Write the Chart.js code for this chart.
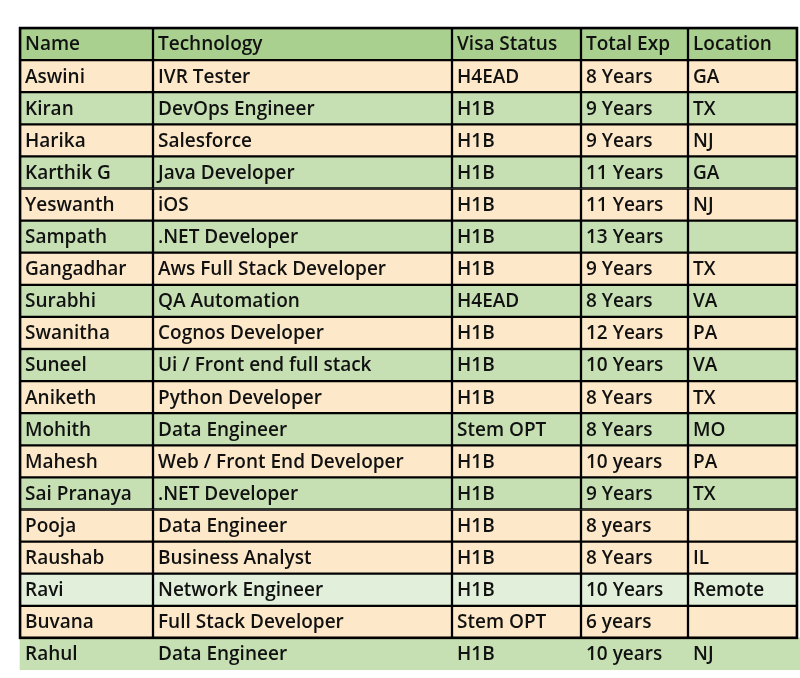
<!DOCTYPE html>
<html>
<head>
<meta charset="utf-8">
<script src="https://cdn.jsdelivr.net/npm/chart.js@4"></script>
<style>
  body { margin: 0; background: #fff; }
  #wrap { width: 800px; height: 678px; }
</style>
</head>
<body>
<div id="wrap"><canvas id="tbl"></canvas></div>
<script>
const headers = ["Name", "Technology", "Visa Status", "Total Exp", "Location"];
const names = ["Aswini", "Kiran", "Harika", "Karthik G", "Yeswanth", "Sampath", "Gangadhar", "Surabhi", "Swanitha", "Suneel", "Aniketh", "Mohith", "Mahesh", "Sai Pranaya", "Pooja", "Raushab", "Ravi", "Buvana", "Rahul"];
const technology = ["IVR Tester", "DevOps Engineer", "Salesforce", "Java Developer", "iOS", ".NET Developer", "Aws Full Stack Developer", "QA Automation", "Cognos Developer", "Ui / Front end full stack", "Python Developer", "Data Engineer", "Web / Front End Developer", ".NET Developer", "Data Engineer", "Business Analyst", "Network Engineer", "Full Stack Developer", "Data Engineer"];
const visa = ["H4EAD", "H1B", "H1B", "H1B", "H1B", "H1B", "H1B", "H4EAD", "H1B", "H1B", "H1B", "Stem OPT", "H1B", "H1B", "H1B", "H1B", "H1B", "Stem OPT", "H1B"];
const experience = ["8 Years", "9 Years", "9 Years", "11 Years", "11 Years", "13 Years", "9 Years", "8 Years", "12 Years", "10 Years", "8 Years", "8 Years", "10 years", "9 Years", "8 years", "8 Years", "10 Years", "6 years", "10 years"];
const location_ = ["GA", "TX", "NJ", "GA", "NJ", "", "TX", "VA", "PA", "VA", "TX", "MO", "PA", "TX", "", "IL", "Remote", "", "NJ"];
// row shading: h = header, p = peach, g = green, l = light green
const shades = ["h", "p", "g", "p", "g", "p", "g", "p", "g", "p", "g", "p", "g", "p", "g", "p", "p", "l", "p", "g"];

// column edges in table units (pixels of the original sheet)
const colEdges = [20, 153, 452, 581, 688, 797];
const shadeColor = { h: "#a9d08e", p: "#fde9c9", g: "#c6e0b4", l: "#e2efda" };

const columns = [names, technology, visa, experience, location_];
const rowLabels = ["header"].concat(names.map((n, i) => n + "#" + i));
const lastRow = rowLabels.length - 1;

const datasets = columns.map((col, c) => ({
  label: headers[c],
  data: rowLabels.map((r, i) => {
    if (i === lastRow) return [colEdges[c], c === 4 ? 800 : colEdges[c + 1]];
    return [colEdges[c], colEdges[c + 1]];
  }),
  backgroundColor: shades.map(s => shadeColor[s]),
  borderColor: "#000",
  borderWidth: rowLabels.map((r, i) => (i === lastRow ? 0 : 1.5)),
  borderSkipped: false,
  grouped: false,
  barPercentage: 1,
  categoryPercentage: 1,
}));

const cellText = {
  id: "cellText",
  afterDatasetsDraw(chart) {
    const ctx = chart.ctx;
    const x = chart.scales.x, y = chart.scales.y;
    ctx.save();
    ctx.fillStyle = "#111";
    ctx.font = "600 19px 'Open Sans'";
    ctx.textBaseline = "middle";
    rowLabels.forEach((r, i) => {
      const yy = y.getPixelForValue(i) + 1;
      columns.forEach((col, c) => {
        const txt = i === 0 ? headers[c] : col[i - 1];
        ctx.fillText(txt, x.getPixelForValue(colEdges[c]) + 5, yy);
      });
    });
    // thick outer border
    ctx.strokeStyle = "#000";
    ctx.lineWidth = 2.5;
    const half = (y.getPixelForValue(1) - y.getPixelForValue(0)) / 2;
    const top = y.getPixelForValue(0) - half;
    const bot = y.getPixelForValue(lastRow) - half;
    ctx.strokeRect(x.getPixelForValue(colEdges[0]), top, x.getPixelForValue(colEdges[5]) - x.getPixelForValue(colEdges[0]), bot - top);
    ctx.restore();
  },
};

new Chart(document.getElementById("tbl"), {
  type: "bar",
  data: { labels: rowLabels, datasets: datasets },
  options: {
    indexAxis: "y",
    responsive: true,
    maintainAspectRatio: false,
    animation: false,
    layout: { padding: { left: 0, right: 0, top: 28, bottom: 8 } },
    plugins: { legend: { display: false }, tooltip: { enabled: false } },
    scales: {
      x: { type: "linear", min: 0, max: 800, display: false },
      y: { display: false },
    },
  },
  plugins: [cellText],
});
</script>
</body>
</html>
